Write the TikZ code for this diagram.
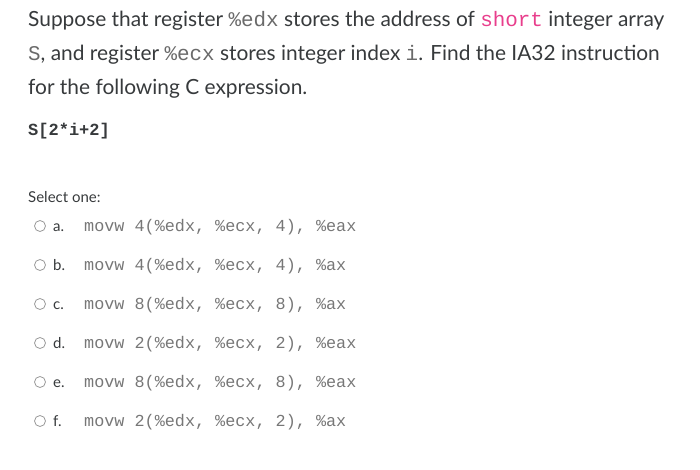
\documentclass[tikz,border=0pt]{standalone}
\usepackage{fontspec}
\setmainfont{Lato}
\setmonofont{Liberation Mono}
\definecolor{txt}{HTML}{373A3C}
\definecolor{cd}{HTML}{E83E8C}
\definecolor{gr}{HTML}{6A6A6A}
\definecolor{cg}{HTML}{777777}
\begin{document}
\begin{tikzpicture}[x=1pt,y=-1pt,
  q/.style={anchor=base west,inner sep=0,text=txt,font=\fontsize{20.9}{24}\selectfont},
  opt/.style={anchor=base west,inner sep=0,text=txt,font=\fontsize{15}{17}\selectfont},
  code/.style={anchor=base west,inner sep=0,text=cg,font=\ttfamily\fontsize{16.8}{18}\selectfont},
  radio/.style={circle,draw=gray!80,line width=0.8pt,minimum size=11pt,inner sep=0}]
\useasboundingbox (0,0) rectangle (700,470);
\node[q] (l1) at (28,27) {Suppose that register {\ttfamily\color{gr}\%edx} stores the address of {\ttfamily\color{cd}short} integer array};
\node[q] (l2) at (28,61) {{\ttfamily\color{gr}S}, and register {\ttfamily\color{gr}\%ecx} stores integer index {\ttfamily\color{gr}i}. Find the IA32 instruction};
\node[q] (l3) at (28,95) {for the following C expression.};
\node[anchor=base west,inner sep=0,text=txt,font=\ttfamily\bfseries\fontsize{17}{19}\selectfont] (ex) at (28,136) {S[2*i+2]};
\node[opt] (sel) at (28,202) {Select one:};
\foreach \y/\l/\c [count=\k] in {231/a./movw 4(\%edx{,} \%ecx{,} 4){,} \%eax,
 270/b./movw 4(\%edx{,} \%ecx{,} 4){,} \%ax,
 309/c./movw 8(\%edx{,} \%ecx{,} 8){,} \%ax,
 348/d./movw 2(\%edx{,} \%ecx{,} 2){,} \%eax,
 387/e./movw 8(\%edx{,} \%ecx{,} 8){,} \%eax,
 426/f./movw 2(\%edx{,} \%ecx{,} 2){,} \%ax} {
  \node[radio] (r\k) at (40,\y-5) {};
  \node[opt] (L\k) at (53,\y) {\l};
  \node[code] (c\k) at (84,\y) {\c};
}
\end{tikzpicture}
\end{document}
